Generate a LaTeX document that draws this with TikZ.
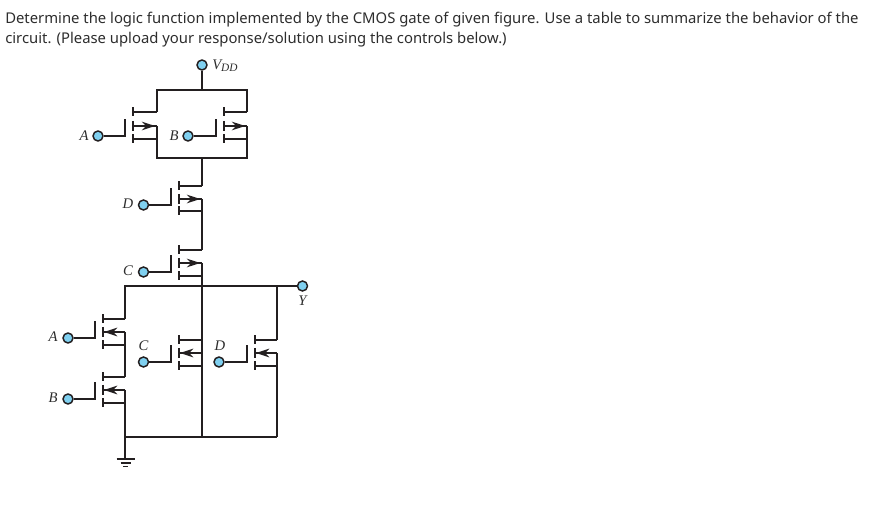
\documentclass[tikz,border=0pt]{standalone}
\usepackage{fontspec}
\setmainfont{Liberation Serif}
\newfontfamily\qfont{Noto Sans}
\usetikzlibrary{arrows.meta,calc}
\definecolor{term}{HTML}{7FD0F0}
\definecolor{wirec}{HTML}{231F20}
\definecolor{txt}{HTML}{2D2D2D}
\tikzset{
  x=0.75pt,y=-0.75pt,
  wire/.style={line width=1.6pt,color=wirec},
  thinwire/.style={line width=1.1pt,color=wirec},
  term/.style={circle,draw=wirec,line width=1.1pt,fill=term,inner sep=0pt,minimum size=7.5pt},
  lab/.style={font=\itshape\fontsize{11}{12}\selectfont,text=txt,inner sep=0pt},
  question/.style={font=\qfont\fontsize{11.13}{14}\selectfont,text=txt,inner sep=0pt,anchor=west},
  tip/.style={-{Stealth[length=10pt,width=6.5pt]},line width=1.2pt,color=wirec}
}
% #1 name, #2 channel x, #3 source stub y, #4 rail x, #5 gate terminal, #6 1 = arrow towards rail, 0 = towards channel
% #7 arrow offset, #8 lower stub offset
\newcommand{\mosfet}[8]{%
  \coordinate (#1s) at (#2,#3);
  \coordinate (#1sr) at (#4,#3);
  \coordinate (#1m) at (#2,#3+#7);
  \coordinate (#1mr) at (#4,#3+#7);
  \coordinate (#1d) at (#2,#3+#8);
  \coordinate (#1dr) at (#4,#3+#8);
  \draw[wire] (#2,#3-4.5) -- (#2,#3+4.5);
  \draw[wire] (#2,#3+#7-5) -- (#2,#3+#7+5);
  \draw[wire] (#2,#3+#8-4.5) -- (#2,#3+#8+4.5);
  \draw[wire] (#1s) -- (#1sr);
  \draw[wire] (#1d) -- (#1dr);
  \draw[wire] (#5) -| ($(#5 -| #2,0) + (-8,0)$) -- ++(0,-17);
  \draw[wire] (#1m) -- (#1mr);
  \ifnum#6=1
    \draw[tip] (#1m) -- ($(#1m)!0.92!(#1mr)$);
  \else
    \draw[tip] ($(#1mr)!0.25!(#1m)$) -- ($(#1m)+(1,0)$);
  \fi
}
\begin{document}
\begin{tikzpicture}
\useasboundingbox (0,0) rectangle (869,524);
\node[question] (q1) at (5,19.5) {Determine the logic function implemented by the CMOS gate of given figure. Use a table to summarize the behavior of the};
\node[question] (q2) at (5,40) {circuit. (Please upload your response/solution using the controls below.)};
% terminals
\node[term] (vdd) at (202,65) {};
\node[lab,anchor=west] (vddl) at (212,66) {V\textsubscript{\fontsize{8.5}{9}\selectfont DD}};
\node[term] (a1) at (98,136) {};
\node[lab] (a1l) at (84,136) {A};
\node[term] (b1) at (188,136) {};
\node[lab] (b1l) at (174,136) {B};
\node[term] (d1) at (143.5,205) {};
\node[lab] (d1l) at (128,204) {D};
\node[term] (c1) at (143.5,272) {};
\node[lab] (c1l) at (128,271) {C};
\node[term] (y) at (302.5,286) {};
\node[lab] (yl) at (302.5,301) {Y};
\node[term] (a2) at (68,338) {};
\node[lab] (a2l) at (53,337) {A};
\node[term] (b2) at (68,399) {};
\node[lab] (b2l) at (53,398) {B};
\node[term] (c2) at (143.5,362) {};
\node[lab] (c2l) at (143.5,346) {C};
\node[term] (d2) at (219,362) {};
\node[lab] (d2l) at (220,346) {D};
% transistors
\mosfet{pa}{133}{112}{157}{a1}{1}{14}{27}
\mosfet{pb}{224}{112}{247}{b1}{1}{14}{27}
\mosfet{pd}{179}{186}{202}{d1}{1}{13}{25}
\mosfet{pc}{179}{250}{202}{c1}{1}{13}{26}
\mosfet{na}{103}{319}{125}{a2}{0}{13}{26}
\mosfet{nb}{103}{377}{125}{b2}{0}{13}{26}
\mosfet{nc}{179}{340}{202}{c2}{0}{13}{26}
\mosfet{nd}{255}{340}{277}{d2}{0}{13}{26}
% pull-up wiring
\coordinate (top) at (202,90);
\coordinate (bot) at (202,158);
\draw[wire] (vdd) -- (top);
\draw[wire] (pasr) -- (157,90) -- (247,90) -- (pbsr);
\draw[wire] (pamr) -- (157,158) -- (247,158) -- (pbmr);
\draw[wire] (bot) -- (pdsr);
\draw[wire] (pdmr) -- (pcsr);
\draw[wire] (pcmr) -- (202,286);
% output and pull-down wiring
\coordinate (out) at (202,286);
\coordinate (gnd) at (125,437);
\coordinate (gndt) at (125,459);
\draw[wire] (nasr) -- (125,286) -- (y);
\draw[wire] (namr) -- (nbsr);
\draw[wire] (nbmr) -- (gnd);
\draw[wire] (gnd) -- (gndt);
\draw[thinwire] (gnd) -- (277,437);
\draw[wire] (out) -- (202,437);
\draw[wire] (ndsr) -- (277,286);
\draw[thinwire] (ndmr) -- (277,437);
% ground
\draw[wire] (116.5,459) -- (134.5,459);
\draw[thinwire] (120.5,463) -- (130.5,463);
\draw[thinwire] (123,466.5) -- (128,466.5);
\end{tikzpicture}
\end{document}
